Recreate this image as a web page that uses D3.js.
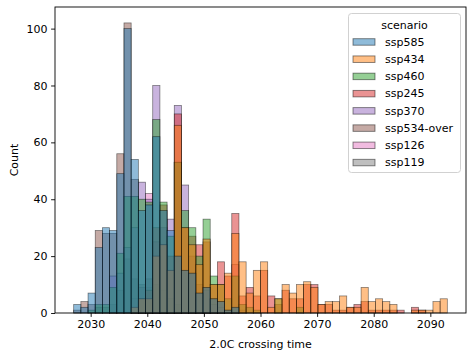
<!DOCTYPE html>
<html>
<head>
<meta charset="utf-8">
<script src="https://cdn.jsdelivr.net/npm/d3@7"></script>
<style>
  html, body { margin: 0; padding: 0; background: #fff; }
  svg { display: block; font-family: "DejaVu Sans", sans-serif; }
</style>
</head>
<body>
<svg id="chart" width="474" height="358"></svg>
<script>
// ---- data ----
const scenarios = ["ssp585", "ssp434", "ssp460", "ssp245", "ssp370", "ssp534-over", "ssp126", "ssp119"];
const colors = ["#1f77b4", "#ff7f0e", "#2ca02c", "#d62728", "#9467bd", "#8c564b", "#e377c2", "#7f7f7f"];
const dataMin = 2027, dataMax = 2093, binCount = 52;
const xTicks = [2030, 2040, 2050, 2060, 2070, 2080, 2090];
const yTicks = [0, 20, 40, 60, 80, 100];

// counts per bin (52 bins) for each scenario
const ssp585 = [3,2,7,23,30,29,49,100,54,36,38,62,36,29,20,15,14,7,9,5,4,1,2,0,0,0,0,0,0,0,0,0,0,0,0,0,0,0,0,0,0,0,0,0,0,0,0,0,0,0,0,0];
const ssp434 = [0,0,0,0,0,0,0,0,2,5,5,20,24,15,66,30,24,17,26,10,10,14,28,18,7,15,18,2,5,10,7,10,11,9,3,4,4,6,2,2,9,4,5,4,3,0,0,1,1,1,4,5];
const ssp460 = [0,0,1,3,3,9,21,41,41,40,39,68,39,27,53,36,30,20,33,13,10,5,13,3,2,1,0,0,5,0,0,2,0,0,0,0,0,0,0,0,0,0,0,0,0,0,0,0,0,0,0,0];
const ssp245 = [0,0,0,0,0,0,0,0,0,5,8,30,38,20,70,30,27,24,25,10,18,13,35,6,9,6,15,6,3,8,5,5,10,10,3,3,1,1,2,3,4,1,1,1,1,1,0,2,1,0,0,0];
const ssp370 = [0,0,0,0,0,13,14,23,30,46,40,80,30,33,73,45,20,10,8,3,2,0,0,0,0,0,0,0,0,0,0,0,0,0,0,0,0,0,0,0,0,0,0,0,0,0,0,0,0,0,0,0];
const ssp534over = [1,4,3,29,28,28,56,102,47,10,12,10,8,5,3,0,0,0,0,0,0,0,0,0,0,0,0,0,0,0,0,0,0,0,0,0,0,0,0,0,0,0,0,0,0,0,0,0,0,0,0,0];
const ssp126 = [0,0,0,0,0,0,0,0,5,9,42,25,24,15,53,15,14,7,9,5,4,1,17,1,0,0,0,0,0,0,0,0,0,0,0,0,0,0,0,0,0,0,0,0,0,0,0,0,0,0,0,0];
const ssp119 = [0,0,0,2,2,3,8,19,12,9,9,25,24,15,53,15,14,7,9,5,4,1,2,0,0,0,0,0,0,0,0,0,0,0,0,0,0,0,0,0,0,0,0,0,0,0,0,0,0,0,0,0];
const seriesValues = [ssp585, ssp434, ssp460, ssp245, ssp370, ssp534over, ssp126, ssp119];

// ---- layout ----
const svg = d3.select("#chart");
const L = 55, R = 466, T = 7, B = 313;
const pad = (dataMax - dataMin) * 0.05;
const x = d3.scaleLinear().domain([dataMin - pad, dataMax + pad]).range([L, R]);
const y = d3.scaleLinear().domain([0, 107.6]).range([B, T]);
const binW = (dataMax - dataMin) / binCount;

svg.append("rect").attr("width", 474).attr("height", 358).attr("fill", "#fff");

const plot = svg.append("g");
// draw in reverse so the first scenario ends up on top
for (let s = scenarios.length - 1; s >= 0; s--) {
  const vals = seriesValues[s];
  const g = plot.append("g");
  g.selectAll("rect").data(vals.map((v, i) => ({v, i})).filter(d => d.v > 0))
    .enter().append("rect")
    .attr("x", d => x(dataMin + d.i * binW))
    .attr("width", d => x(dataMin + (d.i + 1) * binW) - x(dataMin + d.i * binW))
    .attr("y", d => y(d.v))
    .attr("height", d => y(0) - y(d.v))
    .attr("fill", colors[s]).attr("fill-opacity", 0.5)
    .attr("stroke", "#000").attr("stroke-opacity", 0.5).attr("stroke-width", 0.75);
}

// axes
const xAxis = d3.axisBottom(x).tickValues(xTicks).tickFormat(d3.format("d")).tickSizeOuter(0).tickSize(3.9).tickPadding(3.5);
const yAxis = d3.axisLeft(y).tickValues(yTicks).tickSizeOuter(0).tickSize(3.9).tickPadding(3.5);
const gx = svg.append("g").attr("transform", `translate(0,${B})`).call(xAxis);
const gy = svg.append("g").attr("transform", `translate(${L},0)`).call(yAxis);
[gx, gy].forEach(g => {
  g.select(".domain").remove();
  g.selectAll("line").attr("stroke", "#000").attr("stroke-width", 0.9);
  g.selectAll("text").attr("font-size", 11).attr("fill", "#000").attr("font-family", "DejaVu Sans");
});

// spines
svg.append("rect").attr("x", L).attr("y", T).attr("width", R - L).attr("height", B - T)
  .attr("fill", "none").attr("stroke", "#000").attr("stroke-width", 0.9);

// labels
svg.append("text").attr("x", (L + R) / 2).attr("y", 348).attr("text-anchor", "middle")
  .attr("font-size", 11).text("2.0C crossing time");
svg.append("text").attr("transform", `translate(17.5,${(T + B) / 2}) rotate(-90)`)
  .attr("text-anchor", "middle").attr("font-size", 11).text("Count");

// legend
const lg = svg.append("g");
lg.append("rect").attr("x", 348.5).attr("y", 13.5).attr("width", 112).attr("height", 159).attr("rx", 3)
  .attr("fill", "#fff").attr("fill-opacity", 0.8).attr("stroke", "#cccccc").attr("stroke-width", 0.9);
lg.append("text").attr("x", 404.5).attr("y", 28.5).attr("text-anchor", "middle").attr("font-size", 11).text("scenario");
scenarios.forEach((name, i) => {
  const cy = 41.7 + i * 17.23;
  lg.append("rect").attr("x", 353).attr("y", cy - 3).attr("width", 22).attr("height", 6.5)
    .attr("fill", colors[i]).attr("fill-opacity", 0.5)
    .attr("stroke", "#000").attr("stroke-opacity", 0.5).attr("stroke-width", 0.9);
  lg.append("text").attr("x", 385).attr("y", cy + 4).attr("font-size", 11).text(name);
});
</script>
</body>
</html>
